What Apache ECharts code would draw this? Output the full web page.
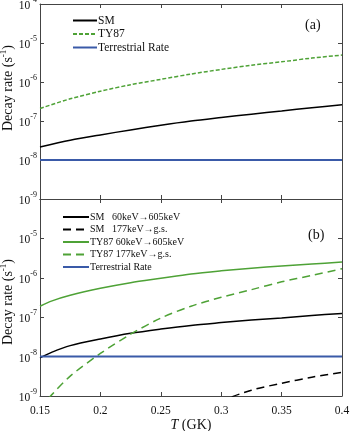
<!DOCTYPE html>
<html><head><meta charset="utf-8">
<script src="https://cdn.jsdelivr.net/npm/echarts@6/dist/echarts.min.js"></script>
<style>html,body{margin:0;padding:0;background:#fff}#c{width:350px;height:431px}</style>
</head><body><div id="c"></div>
<script>
var T = [0.15, 0.175, 0.2, 0.225, 0.25, 0.275, 0.3, 0.325, 0.35, 0.375, 0.4];
// panel (a)
var smA   = [2.15e-8, 3.2e-8, 4.4e-8, 5.9e-8, 7.8e-8, 1.0e-7, 1.23e-7, 1.5e-7, 1.8e-7, 2.2e-7, 2.6e-7];
var ty87A = [2.1e-7, 3.7e-7, 5.8e-7, 8.5e-7, 1.17e-6, 1.6e-6, 2.1e-6, 2.7e-6, 3.3e-6, 4.1e-6, 4.9e-6];
// panel (b)
var Tb = [0.15, 0.16, 0.175, 0.2, 0.225, 0.25, 0.275, 0.3, 0.325, 0.35, 0.375, 0.4];
var sm60   = [9.3e-9, 1.3e-8, 1.9e-8, 2.8e-8, 3.9e-8, 5.0e-8, 6.2e-8, 7.3e-8, 8.5e-8, 9.6e-8, 1.1e-7, 1.25e-7];
var sm177  = [null, null, null, null, null, null, 1.5e-10, 7e-10, 1.4e-9, 2.1e-9, 3.0e-9, 4.0e-9];
var ty60   = [1.9e-7, 2.6e-7, 3.6e-7, 5.4e-7, 7.5e-7, 9.7e-7, 1.25e-6, 1.5e-6, 1.75e-6, 2.0e-6, 2.25e-6, 2.5e-6];
var ty177  = [5e-10, 1.1e-9, 3.2e-9, 1.2e-8, 3.7e-8, 9.5e-8, 1.9e-7, 3.2e-7, 5e-7, 7.9e-7, 1.15e-6, 1.7e-6];
var terr = 1e-8;
var namesA = ['SM', 'TY87', 'Terrestrial Rate'];
var namesB = ['SM   60keV\u2192605keV', 'SM   177keV\u2192g.s.', 'TY87 60keV\u2192605keV', 'TY87 177keV\u2192g.s.', 'Terrestrial Rate'];
var yTitle = '{n|Decay rate (s}{s|-1}{n|)}';

function pairs(xs, ys){ var o=[]; for(var i=0;i<xs.length;i++){ if(ys[i]!=null) o.push([xs[i], ys[i]]); } return o; }

var FONT = '"Liberation Serif", "Times New Roman", serif';
var AX = '#444';
var GREEN = '#4ea236', BLUE = '#3a5aa8';
var titleRich = { n: {fontFamily: FONT, fontSize: 14, fill:'#111', color:'#111'}, s: {fontFamily: FONT, fontSize: 9, fill:'#111', color:'#111', verticalAlign:'top', padding:[0,0,8,0]} };

function yLab(hideTop){
  return {
    fontFamily: FONT, color: '#111', margin: 3,
    formatter: function(v){ var e = Math.round(Math.log(v)/Math.LN10); if(hideTop && e===-4) return ''; return '{b|10}{s|' + (e<0?'-':'') + Math.abs(e) + '}'; },
    rich: { b: {fontFamily: FONT, fontSize: 11.5, color:'#111', padding:[4,0,0,0]}, s: {fontFamily: FONT, fontSize: 8, color:'#111', verticalAlign:'top', padding:[0,0,7,0]} }
  };
}
function yAxis(grid, pos, showLab, hideTop){
  return {
    type: 'log', logBase: 10, min: 1e-9, max: 1e-4, gridIndex: grid, position: pos,
    axisLine: {show: true, lineStyle: {color: AX, width: 1}},
    axisTick: {show: true, inside: true, length: 4, lineStyle:{color: AX}},
    minorTick: {show: false},
    splitLine: {show: false},
    axisLabel: showLab ? yLab(hideTop) : {show: false}
  };
}
function xAxis(grid, pos, showLab, showName){
  return {
    type: 'value', min: 0.15, max: 0.4, interval: 0.05, gridIndex: grid, position: pos,
    axisLine: {show: true, onZero: false, lineStyle: {color: AX, width: 1}},
    axisTick: {show: true, inside: true, length: 4, lineStyle:{color: AX}},
    splitLine: {show: false},
    axisLabel: showLab ? {fontFamily: FONT, fontSize: 11.5, color:'#111', margin: 9, formatter: function(v){ return String(+v.toFixed(2)); }} : {show:false},
    name: showName ? '{i|T}{n| (GK)}' : '',
    nameLocation: 'middle', nameGap: 21,
    nameTextStyle: {rich: {i: {fontFamily: FONT, fontSize: 14, fontStyle:'italic', color:'#111'}, n: {fontFamily: FONT, fontSize: 14, color:'#111'}}}
  };
}
function line(name, xi, yi, data, color, type, width, smooth){
  return {
    name: name, type: 'line', xAxisIndex: xi, yAxisIndex: yi, data: data, symbol: 'none', smooth: smooth ? 0.3 : false,
    clip: true, lineStyle: {color: color, width: width, type: type}, itemStyle: {color: color}, z: 3
  };
}

var chart = echarts.init(document.getElementById('c'), null, {renderer: 'canvas'});
chart.setOption({
  backgroundColor: '#fff',
  animation: false,
  grid: [
    {left: 40, top: 4, width: 302, height: 195, containLabel: false, outerBoundsMode: 'none'},
    {left: 40, top: 199, width: 302, height: 197, containLabel: false, outerBoundsMode: 'none'}
  ],
  xAxis: [ xAxis(0,'bottom',false,false), xAxis(0,'top',false,false), xAxis(1,'bottom',true,true), xAxis(1,'top',false,false) ],
  yAxis: [ yAxis(0,'left',true,false), yAxis(0,'right',false,false), yAxis(1,'left',true,true), yAxis(1,'right',false,false) ],
  legend: [
    {data: namesA, orient: 'vertical', left: 72, top: 14.5, padding: 0, itemWidth: 24, itemHeight: 10, itemGap: 1.5,
     itemStyle: {opacity: 0, borderWidth: 0},
     textStyle: {fontFamily: FONT, fontSize: 11.5, color:'#111', padding:[0,0,0,-4]}, selectedMode: false},
    {data: namesB, orient: 'vertical', left: 62, top: 212, padding: 0, itemWidth: 26, itemHeight: 10, itemGap: 2.5,
     itemStyle: {opacity: 0, borderWidth: 0},
     textStyle: {fontFamily: FONT, fontSize: 10, color:'#111', padding:[0,0,0,-4]}, selectedMode: false}
  ],
  graphic: [
    {type: 'text', left: 305, top: 18, style: {text: '(a)', font: '14px ' + FONT, fill: '#111'}},
    {type: 'text', left: 308, top: 228, style: {text: '(b)', font: '14px ' + FONT, fill: '#111'}},
    {type: 'text', x: 8, y: 88, rotation: Math.PI/2, style: {text: yTitle, rich: titleRich, align: 'center', verticalAlign: 'middle', fill:'#111'}},
    {type: 'text', x: 8, y: 302, rotation: Math.PI/2, style: {text: yTitle, rich: titleRich, align: 'center', verticalAlign: 'middle', fill:'#111'}}
  ],
  series: [
    line(namesA[0], 0, 0, pairs(T, smA), '#000', 'solid', 1.5, true),
    line(namesA[1], 0, 0, pairs(T, ty87A), GREEN, [4,2], 1.5, true),
    line(namesA[2], 0, 0, [[0.15, terr],[0.4, terr]], BLUE, 'solid', 2, false),
    line(namesB[0], 2, 2, pairs(Tb, sm60), '#000', 'solid', 1.5, true),
    line(namesB[1], 2, 2, pairs(Tb, sm177), '#000', [8,5], 1.5, true),
    line(namesB[2], 2, 2, pairs(Tb, ty60), GREEN, 'solid', 1.5, true),
    line(namesB[3], 2, 2, pairs(Tb, ty177), GREEN, [8,5], 1.5, true),
    line(namesB[4], 2, 2, [[0.15, terr],[0.4, terr]], BLUE, 'solid', 2, false)
  ]
});
</script></body></html>
